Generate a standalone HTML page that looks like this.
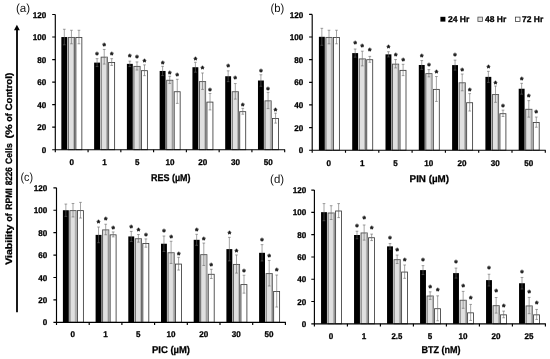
<!DOCTYPE html>
<html lang="en"><head><meta charset="utf-8"><title>Viability of RPMI 8226 Cells</title>
<style>html,body{margin:0;padding:0;background:#fff}body{width:550px;height:359px;overflow:hidden}svg{display:block}svg text{text-rendering:geometricPrecision;stroke:#000;stroke-width:0.28px;font-family:"Liberation Sans",Arial,Helvetica,sans-serif}</style>
</head><body>
<svg width="550" height="359" viewBox="0 0 550 359">
<defs><linearGradient id="gg" x1="0" x2="1" y1="0" y2="0"><stop offset="0" stop-color="#8a8a8a"/><stop offset="0.13" stop-color="#8a8a8a"/><stop offset="0.16" stop-color="#dadada"/><stop offset="0.70" stop-color="#dadada"/><stop offset="0.76" stop-color="#999"/><stop offset="1" stop-color="#999"/></linearGradient></defs>
<rect width="550" height="359" fill="#fff"/>
<line x1="17" y1="29" x2="17" y2="312.2" stroke="#000" stroke-width="1.8"/>
<polygon points="16.9,24.8 14.0,30.2 19.8,30.2" fill="#000"/>
<g transform="translate(12.2,264.4) rotate(-90)" font-size="9.3" font-weight="bold" fill="#000">
<text x="-0.35" y="0" textLength="40.10" lengthAdjust="spacingAndGlyphs">Viability</text>
<text x="42.65" y="0" textLength="8.60" lengthAdjust="spacingAndGlyphs">of</text>
<text x="54.55" y="0" textLength="21.60" lengthAdjust="spacingAndGlyphs">RPMI</text>
<text x="79.05" y="0" textLength="18.10" lengthAdjust="spacingAndGlyphs">8226</text>
<text x="100.45" y="0" textLength="20.70" lengthAdjust="spacingAndGlyphs">Cells</text>
<text x="125.85" y="0" textLength="14.40" lengthAdjust="spacingAndGlyphs">(%</text>
<text x="142.75" y="0" textLength="8.50" lengthAdjust="spacingAndGlyphs">of</text>
<text x="153.85" y="0" textLength="37.80" lengthAdjust="spacingAndGlyphs">Control)</text>
</g>
<rect x="440.4" y="16.8" width="5" height="4.8" fill="#000"/>
<text x="447.9" y="21.9" font-size="8.4" font-weight="bold" textLength="21.4" lengthAdjust="spacingAndGlyphs">24 Hr</text>
<rect x="477.9" y="17.1" width="4.6" height="4.4" fill="#e0e0e0" stroke="#444" stroke-width="0.75"/>
<text x="485.0" y="21.9" font-size="8.4" font-weight="bold" textLength="21.2" lengthAdjust="spacingAndGlyphs">48 Hr</text>
<rect x="515.4" y="17.1" width="4.6" height="4.4" fill="#fff" stroke="#333" stroke-width="0.75"/>
<text x="522.0" y="21.9" font-size="8.4" font-weight="bold" textLength="21.2" lengthAdjust="spacingAndGlyphs">72 Hr</text>
<g id="panel-a">
<text x="15.899999999999999" y="11.9" font-size="11.6" textLength="14.2" lengthAdjust="spacingAndGlyphs" fill="#111" stroke="none" style="stroke:none">(a)</text>
<rect x="61.35" y="37.03" width="5.9" height="112.67" fill="#000"/>
<rect x="68.35" y="37.43" width="6.2" height="112.27" fill="#e0e0e0" stroke="#505050" stroke-width="0.9"/>
<rect x="73.25" y="37.88" width="0.9" height="111.82" fill="#b0b0b0"/>
<rect x="75.00" y="37.43" width="0.9" height="112.27" fill="#c4c4c4"/>
<rect x="75.90" y="37.43" width="5.95" height="112.27" fill="#fff" stroke="#3c3c3c" stroke-width="0.85"/>
<path d="M64.30 29.26V44.81M62.95 29.26H65.65M62.95 44.81H65.65" stroke="#666" stroke-width="0.6" fill="none"/>
<path d="M71.45 30.27V43.79M70.10 30.27H72.80M70.10 43.79H72.80" stroke="#666" stroke-width="0.6" fill="none"/>
<path d="M78.95 30.27V43.79M77.60 30.27H80.30M77.60 43.79H80.30" stroke="#666" stroke-width="0.6" fill="none"/>
<rect x="94.12" y="62.61" width="5.9" height="87.09" fill="#000"/>
<rect x="101.12" y="57.15" width="6.2" height="92.55" fill="#e0e0e0" stroke="#505050" stroke-width="0.9"/>
<rect x="106.02" y="57.60" width="0.9" height="92.10" fill="#b0b0b0"/>
<rect x="107.77" y="62.45" width="0.9" height="87.25" fill="#c4c4c4"/>
<rect x="108.67" y="62.45" width="5.95" height="87.25" fill="#fff" stroke="#3c3c3c" stroke-width="0.85"/>
<path d="M97.07 58.67V66.55M95.72 58.67H98.42M95.72 66.55H98.42" stroke="#666" stroke-width="0.6" fill="none"/>
<text x="97.07" y="58.05" font-size="8.8" font-weight="bold" text-anchor="middle" fill="#111">*</text>
<path d="M104.22 49.43V64.07M102.87 49.43H105.57M102.87 64.07H105.57" stroke="#666" stroke-width="0.6" fill="none"/>
<text x="104.22" y="48.85" font-size="8.8" font-weight="bold" text-anchor="middle" fill="#111">*</text>
<path d="M111.72 58.67V65.43M110.37 58.67H113.07M110.37 65.43H113.07" stroke="#666" stroke-width="0.6" fill="none"/>
<text x="111.72" y="58.05" font-size="8.8" font-weight="bold" text-anchor="middle" fill="#111">*</text>
<rect x="126.89" y="63.85" width="5.9" height="85.85" fill="#000"/>
<rect x="133.89" y="66.39" width="6.2" height="83.31" fill="#e0e0e0" stroke="#505050" stroke-width="0.9"/>
<rect x="138.79" y="66.84" width="0.9" height="82.86" fill="#b0b0b0"/>
<rect x="140.54" y="70.67" width="0.9" height="79.03" fill="#c4c4c4"/>
<rect x="141.44" y="70.67" width="5.95" height="79.03" fill="#fff" stroke="#3c3c3c" stroke-width="0.85"/>
<path d="M129.84 61.14V66.55M128.49 61.14H131.19M128.49 66.55H131.19" stroke="#666" stroke-width="0.6" fill="none"/>
<text x="129.84" y="60.15" font-size="8.8" font-weight="bold" text-anchor="middle" fill="#111">*</text>
<path d="M136.99 61.93V70.04M135.64 61.93H138.34M135.64 70.04H138.34" stroke="#666" stroke-width="0.6" fill="none"/>
<text x="136.99" y="61.35" font-size="8.8" font-weight="bold" text-anchor="middle" fill="#111">*</text>
<path d="M144.49 64.86V75.68M143.14 64.86H145.84M143.14 75.68H145.84" stroke="#666" stroke-width="0.6" fill="none"/>
<text x="144.49" y="65.45" font-size="8.8" font-weight="bold" text-anchor="middle" fill="#111">*</text>
<rect x="159.66" y="70.95" width="5.9" height="78.75" fill="#000"/>
<rect x="166.66" y="80.25" width="6.2" height="69.45" fill="#e0e0e0" stroke="#505050" stroke-width="0.9"/>
<rect x="171.56" y="80.70" width="0.9" height="69.00" fill="#b0b0b0"/>
<rect x="173.31" y="91.74" width="0.9" height="57.96" fill="#c4c4c4"/>
<rect x="174.21" y="91.74" width="5.95" height="57.96" fill="#fff" stroke="#3c3c3c" stroke-width="0.85"/>
<path d="M162.61 66.33V75.57M161.26 66.33H163.96M161.26 75.57H163.96" stroke="#666" stroke-width="0.6" fill="none"/>
<text x="162.61" y="67.45" font-size="8.8" font-weight="bold" text-anchor="middle" fill="#111">*</text>
<path d="M169.76 76.24V83.45M168.41 76.24H171.11M168.41 83.45H171.11" stroke="#666" stroke-width="0.6" fill="none"/>
<text x="169.76" y="76.55" font-size="8.8" font-weight="bold" text-anchor="middle" fill="#111">*</text>
<path d="M177.26 79.28V103.39M175.91 79.28H178.61M175.91 103.39H178.61" stroke="#666" stroke-width="0.6" fill="none"/>
<text x="177.26" y="78.95" font-size="8.8" font-weight="bold" text-anchor="middle" fill="#111">*</text>
<rect x="192.43" y="67.23" width="5.9" height="82.47" fill="#000"/>
<rect x="199.43" y="81.60" width="6.2" height="68.10" fill="#e0e0e0" stroke="#505050" stroke-width="0.9"/>
<rect x="204.33" y="82.05" width="0.9" height="67.65" fill="#b0b0b0"/>
<rect x="206.08" y="102.10" width="0.9" height="47.60" fill="#c4c4c4"/>
<rect x="206.98" y="102.10" width="5.95" height="47.60" fill="#fff" stroke="#3c3c3c" stroke-width="0.85"/>
<path d="M195.38 62.27V72.19M194.03 62.27H196.73M194.03 72.19H196.73" stroke="#666" stroke-width="0.6" fill="none"/>
<text x="195.38" y="62.55" font-size="8.8" font-weight="bold" text-anchor="middle" fill="#111">*</text>
<path d="M202.53 72.97V89.42M201.18 72.97H203.88M201.18 89.42H203.88" stroke="#666" stroke-width="0.6" fill="none"/>
<text x="202.53" y="72.45" font-size="8.8" font-weight="bold" text-anchor="middle" fill="#111">*</text>
<path d="M210.03 93.48V109.93M208.68 93.48H211.38M208.68 109.93H211.38" stroke="#666" stroke-width="0.6" fill="none"/>
<text x="210.03" y="93.75" font-size="8.8" font-weight="bold" text-anchor="middle" fill="#111">*</text>
<rect x="225.20" y="76.24" width="5.9" height="73.46" fill="#000"/>
<rect x="232.20" y="91.74" width="6.2" height="57.96" fill="#e0e0e0" stroke="#505050" stroke-width="0.9"/>
<rect x="237.10" y="92.19" width="0.9" height="57.51" fill="#b0b0b0"/>
<rect x="238.85" y="111.68" width="0.9" height="38.02" fill="#c4c4c4"/>
<rect x="239.75" y="111.68" width="5.95" height="38.02" fill="#fff" stroke="#3c3c3c" stroke-width="0.85"/>
<path d="M228.15 70.83V81.65M226.80 70.83H229.50M226.80 81.65H229.50" stroke="#666" stroke-width="0.6" fill="none"/>
<text x="228.15" y="70.35" font-size="8.8" font-weight="bold" text-anchor="middle" fill="#111">*</text>
<path d="M235.30 83.56V99.11M233.95 83.56H236.65M233.95 99.11H236.65" stroke="#666" stroke-width="0.6" fill="none"/>
<text x="235.30" y="82.15" font-size="8.8" font-weight="bold" text-anchor="middle" fill="#111">*</text>
<path d="M242.80 108.35V114.21M241.45 108.35H244.15M241.45 114.21H244.15" stroke="#666" stroke-width="0.6" fill="none"/>
<text x="242.80" y="108.55" font-size="8.8" font-weight="bold" text-anchor="middle" fill="#111">*</text>
<rect x="257.97" y="80.52" width="5.9" height="69.18" fill="#000"/>
<rect x="264.97" y="100.86" width="6.2" height="48.84" fill="#e0e0e0" stroke="#505050" stroke-width="0.9"/>
<rect x="269.87" y="101.31" width="0.9" height="48.39" fill="#b0b0b0"/>
<rect x="271.62" y="118.55" width="0.9" height="31.15" fill="#c4c4c4"/>
<rect x="272.52" y="118.55" width="5.95" height="31.15" fill="#fff" stroke="#3c3c3c" stroke-width="0.85"/>
<path d="M260.92 74.78V86.27M259.57 74.78H262.27M259.57 86.27H262.27" stroke="#666" stroke-width="0.6" fill="none"/>
<text x="260.92" y="75.05" font-size="8.8" font-weight="bold" text-anchor="middle" fill="#111">*</text>
<path d="M268.07 92.35V108.58M266.72 92.35H269.42M266.72 108.58H269.42" stroke="#666" stroke-width="0.6" fill="none"/>
<text x="268.07" y="92.55" font-size="8.8" font-weight="bold" text-anchor="middle" fill="#111">*</text>
<path d="M275.57 113.20V123.11M274.22 113.20H276.92M274.22 123.11H276.92" stroke="#666" stroke-width="0.6" fill="none"/>
<text x="275.57" y="113.55" font-size="8.8" font-weight="bold" text-anchor="middle" fill="#111">*</text>
<path d="M55.30 14.50V150.10M55.30 149.70H285.09" stroke="#000" stroke-width="1.15" fill="none"/>
<path d="M52.20 14.50H55.30M52.20 37.03H55.30M52.20 59.57H55.30M52.20 82.10H55.30M52.20 104.63H55.30M52.20 127.17H55.30M52.20 149.70H55.30M55.30 149.70V152.30M88.07 149.70V152.30M120.84 149.70V152.30M153.61 149.70V152.30M186.38 149.70V152.30M219.15 149.70V152.30M251.92 149.70V152.30M284.69 149.70V152.30" stroke="#000" stroke-width="1.15" fill="none"/>
<text x="32.70" y="17.60" font-size="8.3" font-weight="bold" textLength="13.5" lengthAdjust="spacingAndGlyphs">120</text>
<text x="32.70" y="40.13" font-size="8.3" font-weight="bold" textLength="13.5" lengthAdjust="spacingAndGlyphs">100</text>
<text x="37.20" y="62.67" font-size="8.3" font-weight="bold" textLength="9.0" lengthAdjust="spacingAndGlyphs">80</text>
<text x="37.20" y="85.20" font-size="8.3" font-weight="bold" textLength="9.0" lengthAdjust="spacingAndGlyphs">60</text>
<text x="37.20" y="107.73" font-size="8.3" font-weight="bold" textLength="9.0" lengthAdjust="spacingAndGlyphs">40</text>
<text x="37.20" y="130.27" font-size="8.3" font-weight="bold" textLength="9.0" lengthAdjust="spacingAndGlyphs">20</text>
<text x="41.70" y="152.80" font-size="8.3" font-weight="bold" textLength="4.5" lengthAdjust="spacingAndGlyphs">0</text>
<text x="69.44" y="165.2" font-size="8.3" font-weight="bold" textLength="4.5" lengthAdjust="spacingAndGlyphs">0</text>
<text x="102.20" y="165.2" font-size="8.3" font-weight="bold" textLength="4.5" lengthAdjust="spacingAndGlyphs">1</text>
<text x="134.98" y="165.2" font-size="8.3" font-weight="bold" textLength="4.5" lengthAdjust="spacingAndGlyphs">5</text>
<text x="165.50" y="165.2" font-size="8.3" font-weight="bold" textLength="9.0" lengthAdjust="spacingAndGlyphs">10</text>
<text x="198.26" y="165.2" font-size="8.3" font-weight="bold" textLength="9.0" lengthAdjust="spacingAndGlyphs">20</text>
<text x="231.04" y="165.2" font-size="8.3" font-weight="bold" textLength="9.0" lengthAdjust="spacingAndGlyphs">30</text>
<text x="263.81" y="165.2" font-size="8.3" font-weight="bold" textLength="9.0" lengthAdjust="spacingAndGlyphs">50</text>
<text x="151.0" y="181.0" font-size="9.8" font-weight="bold" textLength="39.6" lengthAdjust="spacingAndGlyphs">RES (µM)</text>
</g>
<g id="panel-b">
<text x="270.5" y="11.9" font-size="11.6" textLength="13.7" lengthAdjust="spacingAndGlyphs" fill="#111" stroke="none" style="stroke:none">(b)</text>
<rect x="318.90" y="36.81" width="5.9" height="113.39" fill="#000"/>
<rect x="325.90" y="37.43" width="6.2" height="112.77" fill="#e0e0e0" stroke="#505050" stroke-width="0.9"/>
<rect x="330.80" y="37.88" width="0.9" height="112.32" fill="#b0b0b0"/>
<rect x="332.55" y="37.43" width="0.9" height="112.77" fill="#c4c4c4"/>
<rect x="333.45" y="37.43" width="5.95" height="112.77" fill="#fff" stroke="#3c3c3c" stroke-width="0.85"/>
<path d="M321.85 28.32V45.29M320.50 28.32H323.20M320.50 45.29H323.20" stroke="#666" stroke-width="0.6" fill="none"/>
<path d="M329.00 30.24V43.82M327.65 30.24H330.35M327.65 43.82H330.35" stroke="#666" stroke-width="0.6" fill="none"/>
<path d="M336.50 30.24V43.82M335.15 30.24H337.85M335.15 43.82H337.85" stroke="#666" stroke-width="0.6" fill="none"/>
<rect x="352.20" y="53.10" width="5.9" height="97.10" fill="#000"/>
<rect x="359.20" y="58.93" width="6.2" height="91.26" fill="#e0e0e0" stroke="#505050" stroke-width="0.9"/>
<rect x="364.10" y="59.38" width="0.9" height="90.81" fill="#b0b0b0"/>
<rect x="365.85" y="59.73" width="0.9" height="90.47" fill="#c4c4c4"/>
<rect x="366.75" y="59.73" width="5.95" height="90.47" fill="#fff" stroke="#3c3c3c" stroke-width="0.85"/>
<path d="M355.15 49.03V57.18M353.80 49.03H356.50M353.80 57.18H356.50" stroke="#666" stroke-width="0.6" fill="none"/>
<text x="355.15" y="46.75" font-size="8.8" font-weight="bold" text-anchor="middle" fill="#111">*</text>
<path d="M362.30 51.18V65.89M360.95 51.18H363.65M360.95 65.89H363.65" stroke="#666" stroke-width="0.6" fill="none"/>
<text x="362.30" y="50.05" font-size="8.8" font-weight="bold" text-anchor="middle" fill="#111">*</text>
<path d="M369.80 56.38V62.27M368.45 56.38H371.15M368.45 62.27H371.15" stroke="#666" stroke-width="0.6" fill="none"/>
<text x="369.80" y="54.25" font-size="8.8" font-weight="bold" text-anchor="middle" fill="#111">*</text>
<rect x="385.50" y="54.35" width="5.9" height="95.85" fill="#000"/>
<rect x="392.50" y="64.14" width="6.2" height="86.06" fill="#e0e0e0" stroke="#505050" stroke-width="0.9"/>
<rect x="397.40" y="64.59" width="0.9" height="85.61" fill="#b0b0b0"/>
<rect x="399.15" y="70.36" width="0.9" height="79.84" fill="#c4c4c4"/>
<rect x="400.05" y="70.36" width="5.95" height="79.84" fill="#fff" stroke="#3c3c3c" stroke-width="0.85"/>
<path d="M388.45 51.74V56.95M387.10 51.74H389.80M387.10 56.95H389.80" stroke="#666" stroke-width="0.6" fill="none"/>
<text x="388.45" y="50.75" font-size="8.8" font-weight="bold" text-anchor="middle" fill="#111">*</text>
<path d="M395.60 59.55V67.93M394.25 59.55H396.95M394.25 67.93H396.95" stroke="#666" stroke-width="0.6" fill="none"/>
<text x="395.60" y="59.35" font-size="8.8" font-weight="bold" text-anchor="middle" fill="#111">*</text>
<path d="M403.10 64.31V75.62M401.75 64.31H404.45M401.75 75.62H404.45" stroke="#666" stroke-width="0.6" fill="none"/>
<text x="403.10" y="64.35" font-size="8.8" font-weight="bold" text-anchor="middle" fill="#111">*</text>
<rect x="418.80" y="64.99" width="5.9" height="85.21" fill="#000"/>
<rect x="425.80" y="73.65" width="6.2" height="76.55" fill="#e0e0e0" stroke="#505050" stroke-width="0.9"/>
<rect x="430.70" y="74.10" width="0.9" height="76.10" fill="#b0b0b0"/>
<rect x="432.45" y="89.38" width="0.9" height="60.82" fill="#c4c4c4"/>
<rect x="433.35" y="89.38" width="5.95" height="60.82" fill="#fff" stroke="#3c3c3c" stroke-width="0.85"/>
<path d="M421.75 60.57V69.40M420.40 60.57H423.10M420.40 69.40H423.10" stroke="#666" stroke-width="0.6" fill="none"/>
<text x="421.75" y="59.85" font-size="8.8" font-weight="bold" text-anchor="middle" fill="#111">*</text>
<path d="M428.90 69.63V76.87M427.55 69.63H430.25M427.55 76.87H430.25" stroke="#666" stroke-width="0.6" fill="none"/>
<text x="428.90" y="69.35" font-size="8.8" font-weight="bold" text-anchor="middle" fill="#111">*</text>
<path d="M436.40 76.53V101.43M435.05 76.53H437.75M435.05 101.43H437.75" stroke="#666" stroke-width="0.6" fill="none"/>
<text x="436.40" y="75.55" font-size="8.8" font-weight="bold" text-anchor="middle" fill="#111">*</text>
<rect x="452.10" y="65.10" width="5.9" height="85.10" fill="#000"/>
<rect x="459.10" y="82.81" width="6.2" height="67.39" fill="#e0e0e0" stroke="#505050" stroke-width="0.9"/>
<rect x="464.00" y="83.26" width="0.9" height="66.94" fill="#b0b0b0"/>
<rect x="465.75" y="102.73" width="0.9" height="47.47" fill="#c4c4c4"/>
<rect x="466.65" y="102.73" width="5.95" height="47.47" fill="#fff" stroke="#3c3c3c" stroke-width="0.85"/>
<path d="M455.05 60.12V70.08M453.70 60.12H456.40M453.70 70.08H456.40" stroke="#666" stroke-width="0.6" fill="none"/>
<text x="455.05" y="59.15" font-size="8.8" font-weight="bold" text-anchor="middle" fill="#111">*</text>
<path d="M462.20 74.04V90.79M460.85 74.04H463.55M460.85 90.79H463.55" stroke="#666" stroke-width="0.6" fill="none"/>
<text x="462.20" y="74.35" font-size="8.8" font-weight="bold" text-anchor="middle" fill="#111">*</text>
<path d="M469.70 93.62V111.04M468.35 93.62H471.05M468.35 111.04H471.05" stroke="#666" stroke-width="0.6" fill="none"/>
<text x="469.70" y="93.75" font-size="8.8" font-weight="bold" text-anchor="middle" fill="#111">*</text>
<rect x="485.40" y="76.87" width="5.9" height="73.33" fill="#000"/>
<rect x="492.40" y="94.58" width="6.2" height="55.62" fill="#e0e0e0" stroke="#505050" stroke-width="0.9"/>
<rect x="497.30" y="95.03" width="0.9" height="55.17" fill="#b0b0b0"/>
<rect x="499.05" y="113.71" width="0.9" height="36.49" fill="#c4c4c4"/>
<rect x="499.95" y="113.71" width="5.95" height="36.49" fill="#fff" stroke="#3c3c3c" stroke-width="0.85"/>
<path d="M488.35 71.32V82.41M487.00 71.32H489.70M487.00 82.41H489.70" stroke="#666" stroke-width="0.6" fill="none"/>
<text x="488.35" y="70.75" font-size="8.8" font-weight="bold" text-anchor="middle" fill="#111">*</text>
<path d="M495.50 86.03V102.33M494.15 86.03H496.85M494.15 102.33H496.85" stroke="#666" stroke-width="0.6" fill="none"/>
<text x="495.50" y="86.55" font-size="8.8" font-weight="bold" text-anchor="middle" fill="#111">*</text>
<path d="M503.00 110.14V116.48M501.65 110.14H504.35M501.65 116.48H504.35" stroke="#666" stroke-width="0.6" fill="none"/>
<text x="503.00" y="109.55" font-size="8.8" font-weight="bold" text-anchor="middle" fill="#111">*</text>
<rect x="518.70" y="88.75" width="5.9" height="61.45" fill="#000"/>
<rect x="525.70" y="109.29" width="6.2" height="40.91" fill="#e0e0e0" stroke="#505050" stroke-width="0.9"/>
<rect x="530.60" y="109.74" width="0.9" height="40.46" fill="#b0b0b0"/>
<rect x="532.35" y="122.53" width="0.9" height="27.67" fill="#c4c4c4"/>
<rect x="533.25" y="122.53" width="5.95" height="27.67" fill="#fff" stroke="#3c3c3c" stroke-width="0.85"/>
<path d="M521.65 83.32V94.18M520.30 83.32H523.00M520.30 94.18H523.00" stroke="#666" stroke-width="0.6" fill="none"/>
<text x="521.65" y="82.85" font-size="8.8" font-weight="bold" text-anchor="middle" fill="#111">*</text>
<path d="M528.80 100.63V117.16M527.45 100.63H530.15M527.45 117.16H530.15" stroke="#666" stroke-width="0.6" fill="none"/>
<text x="528.80" y="100.05" font-size="8.8" font-weight="bold" text-anchor="middle" fill="#111">*</text>
<path d="M536.30 117.04V127.23M534.95 117.04H537.65M534.95 127.23H537.65" stroke="#666" stroke-width="0.6" fill="none"/>
<text x="536.30" y="116.35" font-size="8.8" font-weight="bold" text-anchor="middle" fill="#111">*</text>
<path d="M312.20 14.40V150.60M312.20 150.20H545.70" stroke="#000" stroke-width="1.15" fill="none"/>
<path d="M309.10 14.40H312.20M309.10 37.03H312.20M309.10 59.67H312.20M309.10 82.30H312.20M309.10 104.93H312.20M309.10 127.57H312.20M309.10 150.20H312.20M312.20 150.20V152.80M345.50 150.20V152.80M378.80 150.20V152.80M412.10 150.20V152.80M445.40 150.20V152.80M478.70 150.20V152.80M512.00 150.20V152.80M545.30 150.20V152.80" stroke="#000" stroke-width="1.15" fill="none"/>
<text x="289.70" y="17.50" font-size="8.3" font-weight="bold" textLength="13.5" lengthAdjust="spacingAndGlyphs">120</text>
<text x="289.70" y="40.13" font-size="8.3" font-weight="bold" textLength="13.5" lengthAdjust="spacingAndGlyphs">100</text>
<text x="294.20" y="62.77" font-size="8.3" font-weight="bold" textLength="9.0" lengthAdjust="spacingAndGlyphs">80</text>
<text x="294.20" y="85.40" font-size="8.3" font-weight="bold" textLength="9.0" lengthAdjust="spacingAndGlyphs">60</text>
<text x="294.20" y="108.03" font-size="8.3" font-weight="bold" textLength="9.0" lengthAdjust="spacingAndGlyphs">40</text>
<text x="294.20" y="130.67" font-size="8.3" font-weight="bold" textLength="9.0" lengthAdjust="spacingAndGlyphs">20</text>
<text x="298.70" y="153.30" font-size="8.3" font-weight="bold" textLength="4.5" lengthAdjust="spacingAndGlyphs">0</text>
<text x="326.60" y="166.4" font-size="8.3" font-weight="bold" textLength="4.5" lengthAdjust="spacingAndGlyphs">0</text>
<text x="359.90" y="166.4" font-size="8.3" font-weight="bold" textLength="4.5" lengthAdjust="spacingAndGlyphs">1</text>
<text x="393.20" y="166.4" font-size="8.3" font-weight="bold" textLength="4.5" lengthAdjust="spacingAndGlyphs">5</text>
<text x="424.25" y="166.4" font-size="8.3" font-weight="bold" textLength="9.0" lengthAdjust="spacingAndGlyphs">10</text>
<text x="457.55" y="166.4" font-size="8.3" font-weight="bold" textLength="9.0" lengthAdjust="spacingAndGlyphs">20</text>
<text x="490.85" y="166.4" font-size="8.3" font-weight="bold" textLength="9.0" lengthAdjust="spacingAndGlyphs">30</text>
<text x="524.15" y="166.4" font-size="8.3" font-weight="bold" textLength="9.0" lengthAdjust="spacingAndGlyphs">50</text>
<text x="409.6" y="182.4" font-size="9.8" font-weight="bold" textLength="39.4" lengthAdjust="spacingAndGlyphs">PIN (µM)</text>
</g>
<g id="panel-c">
<text x="20.5" y="181.1" font-size="11.6" textLength="12.6" lengthAdjust="spacingAndGlyphs" fill="#111" stroke="none" style="stroke:none">(c)</text>
<rect x="62.90" y="210.22" width="5.9" height="112.08" fill="#000"/>
<rect x="69.90" y="210.62" width="6.2" height="111.68" fill="#e0e0e0" stroke="#505050" stroke-width="0.9"/>
<rect x="74.80" y="211.07" width="0.9" height="111.23" fill="#b0b0b0"/>
<rect x="76.55" y="210.62" width="0.9" height="111.68" fill="#c4c4c4"/>
<rect x="77.45" y="210.62" width="5.95" height="111.68" fill="#fff" stroke="#3c3c3c" stroke-width="0.85"/>
<path d="M65.85 204.05V216.38M64.50 204.05H67.20M64.50 216.38H67.20" stroke="#666" stroke-width="0.6" fill="none"/>
<path d="M73.00 203.49V216.94M71.65 203.49H74.35M71.65 216.94H74.35" stroke="#666" stroke-width="0.6" fill="none"/>
<path d="M80.50 202.37V218.06M79.15 202.37H81.85M79.15 218.06H81.85" stroke="#666" stroke-width="0.6" fill="none"/>
<rect x="95.60" y="234.88" width="5.9" height="87.43" fill="#000"/>
<rect x="102.60" y="229.90" width="6.2" height="92.41" fill="#e0e0e0" stroke="#505050" stroke-width="0.9"/>
<rect x="107.50" y="230.34" width="0.9" height="91.96" fill="#b0b0b0"/>
<rect x="109.25" y="234.83" width="0.9" height="87.47" fill="#c4c4c4"/>
<rect x="110.15" y="234.83" width="5.95" height="87.47" fill="#fff" stroke="#3c3c3c" stroke-width="0.85"/>
<path d="M98.55 227.03V242.72M97.20 227.03H99.90M97.20 242.72H99.90" stroke="#666" stroke-width="0.6" fill="none"/>
<text x="98.55" y="226.45" font-size="8.8" font-weight="bold" text-anchor="middle" fill="#111">*</text>
<path d="M105.70 224.23V234.76M104.35 224.23H107.05M104.35 234.76H107.05" stroke="#666" stroke-width="0.6" fill="none"/>
<text x="105.70" y="223.15" font-size="8.8" font-weight="bold" text-anchor="middle" fill="#111">*</text>
<path d="M113.20 231.96V236.89M111.85 231.96H114.55M111.85 236.89H114.55" stroke="#666" stroke-width="0.6" fill="none"/>
<text x="113.20" y="231.65" font-size="8.8" font-weight="bold" text-anchor="middle" fill="#111">*</text>
<rect x="128.30" y="236.44" width="5.9" height="85.86" fill="#000"/>
<rect x="135.30" y="238.75" width="6.2" height="83.55" fill="#e0e0e0" stroke="#505050" stroke-width="0.9"/>
<rect x="140.20" y="239.20" width="0.9" height="83.10" fill="#b0b0b0"/>
<rect x="141.95" y="243.46" width="0.9" height="78.84" fill="#c4c4c4"/>
<rect x="142.85" y="243.46" width="5.95" height="78.84" fill="#fff" stroke="#3c3c3c" stroke-width="0.85"/>
<path d="M131.25 231.40V241.49M129.90 231.40H132.60M129.90 241.49H132.60" stroke="#666" stroke-width="0.6" fill="none"/>
<text x="131.25" y="231.05" font-size="8.8" font-weight="bold" text-anchor="middle" fill="#111">*</text>
<path d="M138.40 234.54V242.16M137.05 234.54H139.75M137.05 242.16H139.75" stroke="#666" stroke-width="0.6" fill="none"/>
<text x="138.40" y="234.35" font-size="8.8" font-weight="bold" text-anchor="middle" fill="#111">*</text>
<path d="M145.90 238.91V247.20M144.55 238.91H147.25M144.55 247.20H147.25" stroke="#666" stroke-width="0.6" fill="none"/>
<text x="145.90" y="238.55" font-size="8.8" font-weight="bold" text-anchor="middle" fill="#111">*</text>
<rect x="161.00" y="243.73" width="5.9" height="78.57" fill="#000"/>
<rect x="168.00" y="252.76" width="6.2" height="69.54" fill="#e0e0e0" stroke="#505050" stroke-width="0.9"/>
<rect x="172.90" y="253.21" width="0.9" height="69.09" fill="#b0b0b0"/>
<rect x="174.65" y="264.08" width="0.9" height="58.22" fill="#c4c4c4"/>
<rect x="175.55" y="264.08" width="5.95" height="58.22" fill="#fff" stroke="#3c3c3c" stroke-width="0.85"/>
<path d="M163.95 236.00V251.46M162.60 236.00H165.30M162.60 251.46H165.30" stroke="#666" stroke-width="0.6" fill="none"/>
<text x="163.95" y="235.25" font-size="8.8" font-weight="bold" text-anchor="middle" fill="#111">*</text>
<path d="M171.10 241.26V263.46M169.75 241.26H172.45M169.75 263.46H172.45" stroke="#666" stroke-width="0.6" fill="none"/>
<text x="171.10" y="241.15" font-size="8.8" font-weight="bold" text-anchor="middle" fill="#111">*</text>
<path d="M178.60 257.29V270.07M177.25 257.29H179.95M177.25 270.07H179.95" stroke="#666" stroke-width="0.6" fill="none"/>
<text x="178.60" y="257.95" font-size="8.8" font-weight="bold" text-anchor="middle" fill="#111">*</text>
<rect x="193.70" y="239.81" width="5.9" height="82.49" fill="#000"/>
<rect x="200.70" y="254.67" width="6.2" height="67.63" fill="#e0e0e0" stroke="#505050" stroke-width="0.9"/>
<rect x="205.60" y="255.12" width="0.9" height="67.18" fill="#b0b0b0"/>
<rect x="207.35" y="274.28" width="0.9" height="48.02" fill="#c4c4c4"/>
<rect x="208.25" y="274.28" width="5.95" height="48.02" fill="#fff" stroke="#3c3c3c" stroke-width="0.85"/>
<path d="M196.65 234.31V245.30M195.30 234.31H198.00M195.30 245.30H198.00" stroke="#666" stroke-width="0.6" fill="none"/>
<text x="196.65" y="234.35" font-size="8.8" font-weight="bold" text-anchor="middle" fill="#111">*</text>
<path d="M203.80 243.06V265.47M202.45 243.06H205.15M202.45 265.47H205.15" stroke="#666" stroke-width="0.6" fill="none"/>
<text x="203.80" y="242.55" font-size="8.8" font-weight="bold" text-anchor="middle" fill="#111">*</text>
<path d="M211.30 269.28V278.48M209.95 269.28H212.65M209.95 278.48H212.65" stroke="#666" stroke-width="0.6" fill="none"/>
<text x="211.30" y="269.25" font-size="8.8" font-weight="bold" text-anchor="middle" fill="#111">*</text>
<rect x="226.40" y="249.11" width="5.9" height="73.19" fill="#000"/>
<rect x="233.40" y="264.42" width="6.2" height="57.88" fill="#e0e0e0" stroke="#505050" stroke-width="0.9"/>
<rect x="238.30" y="264.87" width="0.9" height="57.43" fill="#b0b0b0"/>
<rect x="240.05" y="284.59" width="0.9" height="37.71" fill="#c4c4c4"/>
<rect x="240.95" y="284.59" width="5.95" height="37.71" fill="#fff" stroke="#3c3c3c" stroke-width="0.85"/>
<path d="M229.35 237.34V260.88M228.00 237.34H230.70M228.00 260.88H230.70" stroke="#666" stroke-width="0.6" fill="none"/>
<text x="229.35" y="236.75" font-size="8.8" font-weight="bold" text-anchor="middle" fill="#111">*</text>
<path d="M236.50 254.94V273.10M235.15 254.94H237.85M235.15 273.10H237.85" stroke="#666" stroke-width="0.6" fill="none"/>
<text x="236.50" y="255.15" font-size="8.8" font-weight="bold" text-anchor="middle" fill="#111">*</text>
<path d="M244.00 275.23V293.16M242.65 275.23H245.35M242.65 293.16H245.35" stroke="#666" stroke-width="0.6" fill="none"/>
<text x="244.00" y="274.55" font-size="8.8" font-weight="bold" text-anchor="middle" fill="#111">*</text>
<rect x="259.10" y="252.81" width="5.9" height="69.49" fill="#000"/>
<rect x="266.10" y="273.61" width="6.2" height="48.69" fill="#e0e0e0" stroke="#505050" stroke-width="0.9"/>
<rect x="271.00" y="274.06" width="0.9" height="48.24" fill="#b0b0b0"/>
<rect x="272.75" y="291.43" width="0.9" height="30.87" fill="#c4c4c4"/>
<rect x="273.65" y="291.43" width="5.95" height="30.87" fill="#fff" stroke="#3c3c3c" stroke-width="0.85"/>
<path d="M262.05 244.63V260.99M260.70 244.63H263.40M260.70 260.99H263.40" stroke="#666" stroke-width="0.6" fill="none"/>
<text x="262.05" y="243.75" font-size="8.8" font-weight="bold" text-anchor="middle" fill="#111">*</text>
<path d="M269.20 260.43V285.99M267.85 260.43H270.55M267.85 285.99H270.55" stroke="#666" stroke-width="0.6" fill="none"/>
<text x="269.20" y="260.25" font-size="8.8" font-weight="bold" text-anchor="middle" fill="#111">*</text>
<path d="M276.70 275.00V307.06M275.35 275.00H278.05M275.35 307.06H278.05" stroke="#666" stroke-width="0.6" fill="none"/>
<text x="276.70" y="274.35" font-size="8.8" font-weight="bold" text-anchor="middle" fill="#111">*</text>
<path d="M56.50 187.80V322.70M56.50 322.30H285.80" stroke="#000" stroke-width="1.15" fill="none"/>
<path d="M53.40 187.80H56.50M53.40 210.22H56.50M53.40 232.63H56.50M53.40 255.05H56.50M53.40 277.47H56.50M53.40 299.88H56.50M53.40 322.30H56.50M56.50 322.30V324.90M89.20 322.30V324.90M121.90 322.30V324.90M154.60 322.30V324.90M187.30 322.30V324.90M220.00 322.30V324.90M252.70 322.30V324.90M285.40 322.30V324.90" stroke="#000" stroke-width="1.15" fill="none"/>
<text x="33.70" y="190.90" font-size="8.3" font-weight="bold" textLength="13.5" lengthAdjust="spacingAndGlyphs">120</text>
<text x="33.70" y="213.32" font-size="8.3" font-weight="bold" textLength="13.5" lengthAdjust="spacingAndGlyphs">100</text>
<text x="38.20" y="235.73" font-size="8.3" font-weight="bold" textLength="9.0" lengthAdjust="spacingAndGlyphs">80</text>
<text x="38.20" y="258.15" font-size="8.3" font-weight="bold" textLength="9.0" lengthAdjust="spacingAndGlyphs">60</text>
<text x="38.20" y="280.57" font-size="8.3" font-weight="bold" textLength="9.0" lengthAdjust="spacingAndGlyphs">40</text>
<text x="38.20" y="302.98" font-size="8.3" font-weight="bold" textLength="9.0" lengthAdjust="spacingAndGlyphs">20</text>
<text x="42.70" y="325.40" font-size="8.3" font-weight="bold" textLength="4.5" lengthAdjust="spacingAndGlyphs">0</text>
<text x="70.60" y="337.3" font-size="8.3" font-weight="bold" textLength="4.5" lengthAdjust="spacingAndGlyphs">0</text>
<text x="103.30" y="337.3" font-size="8.3" font-weight="bold" textLength="4.5" lengthAdjust="spacingAndGlyphs">1</text>
<text x="136.00" y="337.3" font-size="8.3" font-weight="bold" textLength="4.5" lengthAdjust="spacingAndGlyphs">5</text>
<text x="166.45" y="337.3" font-size="8.3" font-weight="bold" textLength="9.0" lengthAdjust="spacingAndGlyphs">10</text>
<text x="199.15" y="337.3" font-size="8.3" font-weight="bold" textLength="9.0" lengthAdjust="spacingAndGlyphs">20</text>
<text x="231.85" y="337.3" font-size="8.3" font-weight="bold" textLength="9.0" lengthAdjust="spacingAndGlyphs">30</text>
<text x="264.55" y="337.3" font-size="8.3" font-weight="bold" textLength="9.0" lengthAdjust="spacingAndGlyphs">50</text>
<text x="152.0" y="353.4" font-size="9.8" font-weight="bold" textLength="38.0" lengthAdjust="spacingAndGlyphs">PIC (µM)</text>
</g>
<g id="panel-d">
<text x="270.1" y="182.9" font-size="11.6" textLength="14.0" lengthAdjust="spacingAndGlyphs" fill="#111" stroke="none" style="stroke:none">(d)</text>
<rect x="321.05" y="212.16" width="5.9" height="111.64" fill="#000"/>
<rect x="328.05" y="213.01" width="6.2" height="110.79" fill="#e0e0e0" stroke="#505050" stroke-width="0.9"/>
<rect x="332.95" y="213.46" width="0.9" height="110.34" fill="#b0b0b0"/>
<rect x="334.70" y="213.01" width="0.9" height="110.79" fill="#c4c4c4"/>
<rect x="335.60" y="211.00" width="5.95" height="112.80" fill="#fff" stroke="#3c3c3c" stroke-width="0.85"/>
<path d="M324.00 203.58V220.74M322.65 203.58H325.35M322.65 220.74H325.35" stroke="#666" stroke-width="0.6" fill="none"/>
<path d="M331.15 205.70V219.51M329.80 205.70H332.50M329.80 219.51H332.50" stroke="#666" stroke-width="0.6" fill="none"/>
<path d="M338.65 203.58V217.62M337.30 203.58H340.00M337.30 217.62H340.00" stroke="#666" stroke-width="0.6" fill="none"/>
<rect x="354.05" y="235.00" width="5.9" height="88.80" fill="#000"/>
<rect x="361.05" y="232.95" width="6.2" height="90.85" fill="#e0e0e0" stroke="#505050" stroke-width="0.9"/>
<rect x="365.95" y="233.40" width="0.9" height="90.40" fill="#b0b0b0"/>
<rect x="367.70" y="237.74" width="0.9" height="86.06" fill="#c4c4c4"/>
<rect x="368.60" y="237.74" width="5.95" height="86.06" fill="#fff" stroke="#3c3c3c" stroke-width="0.85"/>
<path d="M357.00 231.21V238.79M355.65 231.21H358.35M355.65 238.79H358.35" stroke="#666" stroke-width="0.6" fill="none"/>
<text x="357.00" y="230.45" font-size="8.8" font-weight="bold" text-anchor="middle" fill="#111">*</text>
<path d="M364.15 224.97V240.13M362.80 224.97H365.50M362.80 240.13H365.50" stroke="#666" stroke-width="0.6" fill="none"/>
<text x="364.15" y="222.45" font-size="8.8" font-weight="bold" text-anchor="middle" fill="#111">*</text>
<path d="M371.65 234.11V240.57M370.30 234.11H373.00M370.30 240.57H373.00" stroke="#666" stroke-width="0.6" fill="none"/>
<text x="371.65" y="232.05" font-size="8.8" font-weight="bold" text-anchor="middle" fill="#111">*</text>
<rect x="387.05" y="246.37" width="5.9" height="77.43" fill="#000"/>
<rect x="394.05" y="259.69" width="6.2" height="64.11" fill="#e0e0e0" stroke="#505050" stroke-width="0.9"/>
<rect x="398.95" y="260.14" width="0.9" height="63.66" fill="#b0b0b0"/>
<rect x="400.70" y="272.06" width="0.9" height="51.74" fill="#c4c4c4"/>
<rect x="401.60" y="272.06" width="5.95" height="51.74" fill="#fff" stroke="#3c3c3c" stroke-width="0.85"/>
<path d="M390.00 243.58V249.15M388.65 243.58H391.35M388.65 249.15H391.35" stroke="#666" stroke-width="0.6" fill="none"/>
<text x="390.00" y="241.85" font-size="8.8" font-weight="bold" text-anchor="middle" fill="#111">*</text>
<path d="M397.15 255.06V263.52M395.80 255.06H398.50M395.80 263.52H398.50" stroke="#666" stroke-width="0.6" fill="none"/>
<text x="397.15" y="253.55" font-size="8.8" font-weight="bold" text-anchor="middle" fill="#111">*</text>
<path d="M404.65 264.97V278.34M403.30 264.97H406.00M403.30 278.34H406.00" stroke="#666" stroke-width="0.6" fill="none"/>
<text x="404.65" y="264.35" font-size="8.8" font-weight="bold" text-anchor="middle" fill="#111">*</text>
<rect x="420.05" y="270.10" width="5.9" height="53.70" fill="#000"/>
<rect x="427.05" y="296.01" width="6.2" height="27.79" fill="#e0e0e0" stroke="#505050" stroke-width="0.9"/>
<rect x="431.95" y="296.46" width="0.9" height="27.34" fill="#b0b0b0"/>
<rect x="433.70" y="308.71" width="0.9" height="15.09" fill="#c4c4c4"/>
<rect x="434.60" y="308.71" width="5.95" height="15.09" fill="#fff" stroke="#3c3c3c" stroke-width="0.85"/>
<path d="M423.00 265.64V274.55M421.65 265.64H424.35M421.65 274.55H424.35" stroke="#666" stroke-width="0.6" fill="none"/>
<text x="423.00" y="264.45" font-size="8.8" font-weight="bold" text-anchor="middle" fill="#111">*</text>
<path d="M430.15 291.82V299.40M428.80 291.82H431.50M428.80 299.40H431.50" stroke="#666" stroke-width="0.6" fill="none"/>
<text x="430.15" y="290.55" font-size="8.8" font-weight="bold" text-anchor="middle" fill="#111">*</text>
<path d="M437.65 295.83V320.79M436.30 295.83H439.00M436.30 320.79H439.00" stroke="#666" stroke-width="0.6" fill="none"/>
<text x="437.65" y="293.55" font-size="8.8" font-weight="bold" text-anchor="middle" fill="#111">*</text>
<rect x="453.05" y="273.11" width="5.9" height="50.69" fill="#000"/>
<rect x="460.05" y="300.25" width="6.2" height="23.55" fill="#e0e0e0" stroke="#505050" stroke-width="0.9"/>
<rect x="464.95" y="300.70" width="0.9" height="23.10" fill="#b0b0b0"/>
<rect x="466.70" y="312.84" width="0.9" height="10.96" fill="#c4c4c4"/>
<rect x="467.60" y="312.84" width="5.95" height="10.96" fill="#fff" stroke="#3c3c3c" stroke-width="0.85"/>
<path d="M456.00 268.09V278.12M454.65 268.09H457.35M454.65 278.12H457.35" stroke="#666" stroke-width="0.6" fill="none"/>
<text x="456.00" y="266.45" font-size="8.8" font-weight="bold" text-anchor="middle" fill="#111">*</text>
<path d="M463.15 291.38V308.31M461.80 291.38H464.50M461.80 308.31H464.50" stroke="#666" stroke-width="0.6" fill="none"/>
<text x="463.15" y="289.55" font-size="8.8" font-weight="bold" text-anchor="middle" fill="#111">*</text>
<path d="M470.65 304.41V320.46M469.30 304.41H472.00M469.30 320.46H472.00" stroke="#666" stroke-width="0.6" fill="none"/>
<text x="470.65" y="302.25" font-size="8.8" font-weight="bold" text-anchor="middle" fill="#111">*</text>
<rect x="486.05" y="280.12" width="5.9" height="43.68" fill="#000"/>
<rect x="493.05" y="305.70" width="6.2" height="18.10" fill="#e0e0e0" stroke="#505050" stroke-width="0.9"/>
<rect x="497.95" y="306.15" width="0.9" height="17.65" fill="#b0b0b0"/>
<rect x="499.70" y="314.84" width="0.9" height="8.96" fill="#c4c4c4"/>
<rect x="500.60" y="314.84" width="5.95" height="8.96" fill="#fff" stroke="#3c3c3c" stroke-width="0.85"/>
<path d="M489.00 274.22V286.03M487.65 274.22H490.35M487.65 286.03H490.35" stroke="#666" stroke-width="0.6" fill="none"/>
<text x="489.00" y="272.25" font-size="8.8" font-weight="bold" text-anchor="middle" fill="#111">*</text>
<path d="M496.15 297.51V313.10M494.80 297.51H497.50M494.80 313.10H497.50" stroke="#666" stroke-width="0.6" fill="none"/>
<text x="496.15" y="295.45" font-size="8.8" font-weight="bold" text-anchor="middle" fill="#111">*</text>
<path d="M503.65 311.10V317.78M502.30 311.10H505.00M502.30 317.78H505.00" stroke="#666" stroke-width="0.6" fill="none"/>
<text x="503.65" y="310.35" font-size="8.8" font-weight="bold" text-anchor="middle" fill="#111">*</text>
<rect x="519.05" y="283.24" width="5.9" height="40.56" fill="#000"/>
<rect x="526.05" y="305.93" width="6.2" height="17.87" fill="#e0e0e0" stroke="#505050" stroke-width="0.9"/>
<rect x="530.95" y="306.38" width="0.9" height="17.42" fill="#b0b0b0"/>
<rect x="532.70" y="314.84" width="0.9" height="8.96" fill="#c4c4c4"/>
<rect x="533.60" y="314.84" width="5.95" height="8.96" fill="#fff" stroke="#3c3c3c" stroke-width="0.85"/>
<path d="M522.00 277.45V289.04M520.65 277.45H523.35M520.65 289.04H523.35" stroke="#666" stroke-width="0.6" fill="none"/>
<text x="522.00" y="276.05" font-size="8.8" font-weight="bold" text-anchor="middle" fill="#111">*</text>
<path d="M529.15 297.39V313.66M527.80 297.39H530.50M527.80 313.66H530.50" stroke="#666" stroke-width="0.6" fill="none"/>
<text x="529.15" y="296.25" font-size="8.8" font-weight="bold" text-anchor="middle" fill="#111">*</text>
<path d="M536.65 309.43V319.45M535.30 309.43H538.00M535.30 319.45H538.00" stroke="#666" stroke-width="0.6" fill="none"/>
<text x="536.65" y="307.35" font-size="8.8" font-weight="bold" text-anchor="middle" fill="#111">*</text>
<path d="M314.40 190.10V324.20M314.40 323.80H545.80" stroke="#000" stroke-width="1.15" fill="none"/>
<path d="M311.30 190.10H314.40M311.30 212.38H314.40M311.30 234.67H314.40M311.30 256.95H314.40M311.30 279.23H314.40M311.30 301.52H314.40M311.30 323.80H314.40M314.40 323.80V326.40M347.40 323.80V326.40M380.40 323.80V326.40M413.40 323.80V326.40M446.40 323.80V326.40M479.40 323.80V326.40M512.40 323.80V326.40M545.40 323.80V326.40" stroke="#000" stroke-width="1.15" fill="none"/>
<text x="292.70" y="193.20" font-size="8.3" font-weight="bold" textLength="13.5" lengthAdjust="spacingAndGlyphs">120</text>
<text x="292.70" y="215.48" font-size="8.3" font-weight="bold" textLength="13.5" lengthAdjust="spacingAndGlyphs">100</text>
<text x="297.20" y="237.77" font-size="8.3" font-weight="bold" textLength="9.0" lengthAdjust="spacingAndGlyphs">80</text>
<text x="297.20" y="260.05" font-size="8.3" font-weight="bold" textLength="9.0" lengthAdjust="spacingAndGlyphs">60</text>
<text x="297.20" y="282.33" font-size="8.3" font-weight="bold" textLength="9.0" lengthAdjust="spacingAndGlyphs">40</text>
<text x="297.20" y="304.62" font-size="8.3" font-weight="bold" textLength="9.0" lengthAdjust="spacingAndGlyphs">20</text>
<text x="301.70" y="326.90" font-size="8.3" font-weight="bold" textLength="4.5" lengthAdjust="spacingAndGlyphs">0</text>
<text x="328.65" y="338.9" font-size="8.3" font-weight="bold" textLength="4.5" lengthAdjust="spacingAndGlyphs">0</text>
<text x="361.65" y="338.9" font-size="8.3" font-weight="bold" textLength="4.5" lengthAdjust="spacingAndGlyphs">1</text>
<text x="391.45" y="338.9" font-size="8.3" font-weight="bold" textLength="10.9" lengthAdjust="spacingAndGlyphs">2.5</text>
<text x="427.65" y="338.9" font-size="8.3" font-weight="bold" textLength="4.5" lengthAdjust="spacingAndGlyphs">5</text>
<text x="458.40" y="338.9" font-size="8.3" font-weight="bold" textLength="9.0" lengthAdjust="spacingAndGlyphs">10</text>
<text x="491.40" y="338.9" font-size="8.3" font-weight="bold" textLength="9.0" lengthAdjust="spacingAndGlyphs">20</text>
<text x="524.40" y="338.9" font-size="8.3" font-weight="bold" textLength="9.0" lengthAdjust="spacingAndGlyphs">25</text>
<text x="421.4" y="353.4" font-size="9.8" font-weight="bold" textLength="39.2" lengthAdjust="spacingAndGlyphs">BTZ (nM)</text>
</g>
</svg>
</body></html>
